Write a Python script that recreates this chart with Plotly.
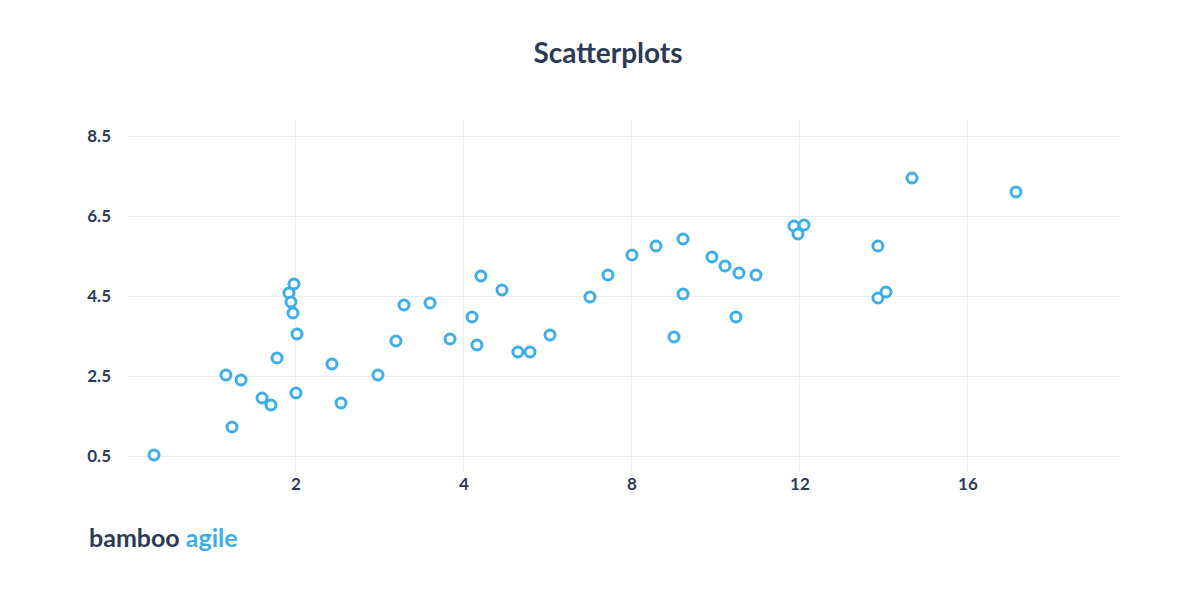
import plotly.graph_objects as go

tick_pos = [1, 2, 3, 4, 5]
tick_labels = ["2", "4", "8", "12", "16"]
y_ticks = [0.5, 2.5, 4.5, 6.5, 8.5]

x_vals = [0.155, 0.583, 0.673, 0.619, 0.798, 0.851, 0.887, 0.958, 0.970, 0.982, 0.988, 1.006, 1.0,
          1.214, 1.268, 1.488, 1.595, 1.643, 1.798, 1.917, 2.048, 2.077, 2.101, 2.226, 2.321, 2.393,
          2.512, 2.750, 2.857, 3.0, 3.143, 3.25, 3.304, 3.304, 3.476, 3.554, 3.637, 3.619, 3.738,
          3.964, 3.988, 4.024, 4.464, 4.464, 4.512, 4.667, 5.286]
y_vals = [0.525, 2.525, 2.40, 1.225, 1.95, 1.775, 2.95, 4.575, 4.35, 4.075, 4.8, 3.55, 2.075,
          2.8, 1.825, 2.525, 3.375, 4.275, 4.325, 3.425, 3.975, 3.275, 5.0, 4.65, 3.1, 3.1,
          3.525, 4.475, 5.025, 5.525, 5.75, 3.475, 4.55, 5.925, 5.475, 5.25, 5.075, 3.975, 5.025,
          6.25, 6.05, 6.275, 5.75, 4.45, 4.6, 7.45, 7.1]

navy = "#2d3a55"
blue = "#3daee9"

fig = go.Figure(go.Scatter(
    x=x_vals, y=y_vals, mode="markers",
    marker=dict(size=10, color="white", line=dict(color=blue, width=3)),
))
fig.update_layout(
    width=1200, height=600, plot_bgcolor="white", paper_bgcolor="white",
    margin=dict(l=120, r=88, t=112, b=136),
    title=dict(text="<b>Scatterplots</b>", x=0.5, y=0.925, xanchor="center", yanchor="middle",
               font=dict(family="Lato", size=28, color=navy)),
    font=dict(family="Lato", size=17, color=navy),
    showlegend=False,
    xaxis=dict(range=[0, 5.905], tickvals=tick_pos, ticktext=tick_labels,
               showgrid=True, gridcolor="#ececec", zeroline=False, showline=False,
               tickfont=dict(size=17, color=navy, weight="bold")),
    yaxis=dict(range=[0.1, 8.9], tickvals=y_ticks, ticktext=[str(v) for v in y_ticks],
               showgrid=True, gridcolor="#ececec", zeroline=False, showline=False,
               ticklabelstandoff=16,
               tickfont=dict(size=17, color=navy, weight="bold")),
    annotations=[dict(
        text=f"<b><span style='color:{navy}'>bamboo</span> <span style='color:{blue}'>agile</span></b>",
        xref="paper", yref="paper", x=-0.041, y=-0.185, xanchor="left", yanchor="middle",
        showarrow=False, font=dict(family="Lato", size=25))],
)
fig.write_html("out.html")
